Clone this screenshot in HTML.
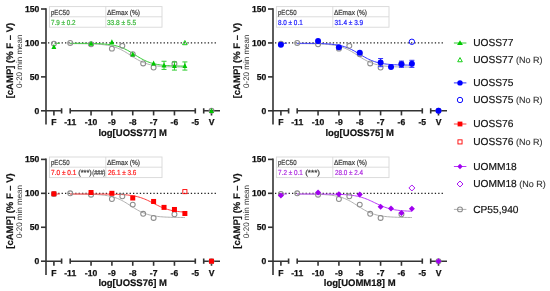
<!DOCTYPE html>
<html><head><meta charset="utf-8"><style>
html,body{margin:0;padding:0;background:#fff;width:550px;height:291px;overflow:hidden;}
svg{display:block;will-change:transform;text-rendering:geometricPrecision;}
</style></head><body>
<svg width="550" height="291" viewBox="0 0 550 291" font-family='"Liberation Sans", sans-serif'>
<rect width="550" height="291" fill="#fff"/>
<g transform="translate(0,0)">
<text transform="translate(13.0,60.6) rotate(-90)" text-anchor="middle" font-weight="bold" font-size="9.5" fill="#111" stroke="#111" stroke-width="0.2">[cAMP] (% F – V)</text>
<text transform="translate(22.3,61.3) rotate(-90)" text-anchor="middle" font-size="8" fill="#333">0-20 min mean</text>
<line x1="46.0" y1="8.20" x2="46.0" y2="124.6" stroke="#333" stroke-width="1.6"/>
<line x1="41.0" y1="110.80" x2="46.0" y2="110.80" stroke="#333" stroke-width="1.6"/>
<text x="39.4" y="113.80" text-anchor="end" font-weight="bold" font-size="8.6" fill="#111" stroke="#111" stroke-width="0.25">0</text>
<line x1="41.0" y1="76.87" x2="46.0" y2="76.87" stroke="#333" stroke-width="1.6"/>
<text x="39.4" y="79.87" text-anchor="end" font-weight="bold" font-size="8.6" fill="#111" stroke="#111" stroke-width="0.25">50</text>
<line x1="41.0" y1="42.93" x2="46.0" y2="42.93" stroke="#333" stroke-width="1.6"/>
<text x="39.4" y="45.93" text-anchor="end" font-weight="bold" font-size="8.6" fill="#111" stroke="#111" stroke-width="0.25">100</text>
<line x1="41.0" y1="9.00" x2="46.0" y2="9.00" stroke="#333" stroke-width="1.6"/>
<text x="39.4" y="12.00" text-anchor="end" font-weight="bold" font-size="8.6" fill="#111" stroke="#111" stroke-width="0.25">150</text>
<path d="M46.0,110.8H61.6M61.6,108.2V113.39999999999999M53.9,110.8V115.39999999999999" stroke="#333" stroke-width="1.6" fill="none"/>
<path d="M70.2,110.8H195.3M70.2,108.2V113.39999999999999M195.3,108.2V113.39999999999999" stroke="#333" stroke-width="1.6" fill="none"/>
<line x1="91.05" y1="110.8" x2="91.05" y2="115.39999999999999" stroke="#333" stroke-width="1.6"/>
<line x1="111.90" y1="110.8" x2="111.90" y2="115.39999999999999" stroke="#333" stroke-width="1.6"/>
<line x1="132.75" y1="110.8" x2="132.75" y2="115.39999999999999" stroke="#333" stroke-width="1.6"/>
<line x1="153.60" y1="110.8" x2="153.60" y2="115.39999999999999" stroke="#333" stroke-width="1.6"/>
<line x1="174.45" y1="110.8" x2="174.45" y2="115.39999999999999" stroke="#333" stroke-width="1.6"/>
<path d="M203.7,110.8H220.0M203.7,108.2V113.39999999999999M211.5,110.8V115.39999999999999" stroke="#333" stroke-width="1.6" fill="none"/>
<text x="53.9" y="125.2" text-anchor="middle" font-weight="bold" font-size="8.6" fill="#111" stroke="#111" stroke-width="0.25">F</text>
<text x="70.20" y="125.2" text-anchor="middle" font-weight="bold" font-size="8.6" fill="#111" stroke="#111" stroke-width="0.25">-11</text>
<text x="91.05" y="125.2" text-anchor="middle" font-weight="bold" font-size="8.6" fill="#111" stroke="#111" stroke-width="0.25">-10</text>
<text x="111.90" y="125.2" text-anchor="middle" font-weight="bold" font-size="8.6" fill="#111" stroke="#111" stroke-width="0.25">-9</text>
<text x="132.75" y="125.2" text-anchor="middle" font-weight="bold" font-size="8.6" fill="#111" stroke="#111" stroke-width="0.25">-8</text>
<text x="153.60" y="125.2" text-anchor="middle" font-weight="bold" font-size="8.6" fill="#111" stroke="#111" stroke-width="0.25">-7</text>
<text x="174.45" y="125.2" text-anchor="middle" font-weight="bold" font-size="8.6" fill="#111" stroke="#111" stroke-width="0.25">-6</text>
<text x="195.30" y="125.2" text-anchor="middle" font-weight="bold" font-size="8.6" fill="#111" stroke="#111" stroke-width="0.25">-5</text>
<text x="211.5" y="125.2" text-anchor="middle" font-weight="bold" font-size="8.6" fill="#111" stroke="#111" stroke-width="0.25">V</text>
<text x="132.7" y="136" text-anchor="middle" font-weight="bold" font-size="9.5" fill="#111" stroke="#111" stroke-width="0.2">log[UOSS77] M</text>
<line x1="48" y1="42.93" x2="218" y2="42.93" stroke="#222" stroke-width="1.2" stroke-dasharray="1.3 2.1"/>
<polyline points="70.20,43.64 71.63,43.64 73.07,43.65 74.50,43.66 75.93,43.66 77.37,43.67 78.80,43.69 80.23,43.70 81.67,43.71 83.10,43.73 84.53,43.75 85.97,43.78 87.40,43.81 88.83,43.84 90.27,43.88 91.70,43.92 93.13,43.98 94.57,44.04 96.00,44.11 97.44,44.19 98.87,44.29 100.30,44.40 101.74,44.54 103.17,44.69 104.60,44.86 106.04,45.06 107.47,45.30 108.90,45.56 110.34,45.86 111.77,46.21 113.20,46.60 114.64,47.04 116.07,47.53 117.50,48.07 118.94,48.67 120.37,49.33 121.80,50.04 123.24,50.81 124.67,51.62 126.10,52.48 127.54,53.37 128.97,54.29 130.40,55.21 131.84,56.15 133.27,57.07 134.70,57.97 136.14,58.84 137.57,59.67 139.00,60.45 140.44,61.19 141.87,61.86 143.31,62.49 144.74,63.05 146.17,63.56 147.61,64.02 149.04,64.42 150.47,64.78 151.91,65.10 153.34,65.38 154.77,65.62 156.21,65.84 157.64,66.02 159.07,66.18 160.51,66.32 161.94,66.44 163.37,66.54 164.81,66.63 166.24,66.71 167.67,66.77 169.11,66.83 170.54,66.87 171.97,66.92 173.41,66.95 174.84,66.98 176.27,67.01 177.71,67.03 179.14,67.05 180.57,67.06 182.01,67.08 183.44,67.09 184.88,67.10" fill="none" stroke="#b0b0b0" stroke-width="1.0"/>
<polyline points="70.20,43.29 71.63,43.29 73.07,43.29 74.50,43.30 75.93,43.30 77.37,43.31 78.80,43.32 80.23,43.32 81.67,43.33 83.10,43.34 84.53,43.36 85.97,43.37 87.40,43.39 88.83,43.41 90.27,43.44 91.70,43.46 93.13,43.50 94.57,43.53 96.00,43.58 97.44,43.63 98.87,43.69 100.30,43.76 101.74,43.85 103.17,43.94 104.60,44.06 106.04,44.18 107.47,44.33 108.90,44.51 110.34,44.71 111.77,44.94 113.20,45.20 114.64,45.50 116.07,45.83 117.50,46.22 118.94,46.65 120.37,47.13 121.80,47.67 123.24,48.26 124.67,48.90 126.10,49.60 127.54,50.35 128.97,51.15 130.40,51.99 131.84,52.86 133.27,53.75 134.70,54.66 136.14,55.56 137.57,56.46 139.00,57.33 140.44,58.18 141.87,58.98 143.31,59.74 144.74,60.45 146.17,61.11 147.61,61.71 149.04,62.25 150.47,62.75 151.91,63.19 153.34,63.58 154.77,63.92 156.21,64.23 157.64,64.50 159.07,64.73 160.51,64.94 161.94,65.11 163.37,65.27 164.81,65.40 166.24,65.52 167.67,65.61 169.11,65.70 170.54,65.77 171.97,65.84 173.41,65.89 174.84,65.94 176.27,65.98 177.71,66.01 179.14,66.04 180.57,66.06 182.01,66.08 183.44,66.10 184.88,66.12" fill="none" stroke="#30cc30" stroke-width="1.0"/>
<line x1="54.6" y1="43.27" x2="59.8" y2="43.27" stroke="#30cc30" stroke-width="1"/>
<circle cx="53.90" cy="43.61" r="2.45" fill="none" stroke="#8c8c8c" stroke-width="1.05"/>
<circle cx="70.20" cy="42.93" r="2.45" fill="none" stroke="#8c8c8c" stroke-width="1.05"/>
<circle cx="91.05" cy="44.29" r="2.45" fill="none" stroke="#8c8c8c" stroke-width="1.05"/>
<circle cx="111.90" cy="48.63" r="2.45" fill="none" stroke="#8c8c8c" stroke-width="1.05"/>
<circle cx="122.33" cy="45.85" r="2.45" fill="none" stroke="#8c8c8c" stroke-width="1.05"/>
<circle cx="132.75" cy="54.20" r="2.45" fill="none" stroke="#8c8c8c" stroke-width="1.05"/>
<circle cx="143.18" cy="63.43" r="2.45" fill="none" stroke="#8c8c8c" stroke-width="1.05"/>
<circle cx="153.60" cy="67.50" r="2.45" fill="none" stroke="#8c8c8c" stroke-width="1.05"/>
<circle cx="174.45" cy="63.83" r="2.45" fill="none" stroke="#8c8c8c" stroke-width="1.05"/>
<circle cx="211.50" cy="110.80" r="2.45" fill="none" stroke="#8c8c8c" stroke-width="1.05"/>
<polygon points="53.90,44.10 56.35,49.10 51.45,49.10" fill="#00c800"/>
<polygon points="91.05,40.71 93.50,45.71 88.60,45.71" fill="#00c800"/>
<polygon points="111.90,39.35 114.35,44.35 109.45,44.35" fill="#00c800"/>
<polygon points="132.75,51.57 135.20,56.57 130.30,56.57" fill="#00c800"/>
<polygon points="153.60,60.39 156.05,65.39 151.15,65.39" fill="#00c800"/>
<path d="M164.03,61.25V69.40M161.53,61.25h5.0M161.53,69.40h5.0" stroke="#30cc30" stroke-width="1.0" fill="none"/>
<polygon points="164.03,62.43 166.47,67.43 161.58,67.43" fill="#00c800"/>
<path d="M174.45,61.93V70.08M171.95,61.93h5.0M171.95,70.08h5.0" stroke="#30cc30" stroke-width="1.0" fill="none"/>
<polygon points="174.45,63.11 176.90,68.11 172.00,68.11" fill="#00c800"/>
<path d="M184.88,61.93V70.08M182.38,61.93h5.0M182.38,70.08h5.0" stroke="#30cc30" stroke-width="1.0" fill="none"/>
<polygon points="184.88,63.11 187.32,68.11 182.43,68.11" fill="#00c800"/>
<polygon points="184.88,40.49 187.18,44.69 182.57,44.69" fill="none" stroke="#00c800" stroke-width="0.9" stroke-linejoin="round"/>
<polygon points="211.50,107.90 213.95,112.90 209.05,112.90" fill="#00c800"/>
<rect x="49.4" y="6.6" width="112.6" height="20.6" fill="#fff" stroke="#d8d8d8" stroke-width="0.9"/>
<line x1="49.4" y1="16.8" x2="162" y2="16.8" stroke="#d8d8d8" stroke-width="0.9"/>
<line x1="105.8" y1="6.6" x2="105.8" y2="27.2" stroke="#d8d8d8" stroke-width="0.9"/>
<text x="51.0" y="14.8" font-size="7.3" fill="#3a3a3a" stroke="#3a3a3a" stroke-width="0.22" textLength="18.5" lengthAdjust="spacingAndGlyphs">pEC50</text>
<text x="106.9" y="14.8" font-size="7.3" fill="#3a3a3a" stroke="#3a3a3a" stroke-width="0.22" textLength="33.0" lengthAdjust="spacingAndGlyphs">ΔEmax (%)</text>
<text x="51.0" y="24.7" font-size="7.3" fill="#3cb83c" stroke="#3cb83c" stroke-width="0.22" textLength="24.5" lengthAdjust="spacingAndGlyphs">7.9 ± 0.2</text>
<text x="106.9" y="24.7" font-size="7.3" fill="#3cb83c" stroke="#3cb83c" stroke-width="0.22" textLength="29.3" lengthAdjust="spacingAndGlyphs">33.8 ± 5.5</text>
</g>
<g transform="translate(227,0)">
<text transform="translate(13.0,60.6) rotate(-90)" text-anchor="middle" font-weight="bold" font-size="9.5" fill="#111" stroke="#111" stroke-width="0.2">[cAMP] (% F – V)</text>
<text transform="translate(22.3,61.3) rotate(-90)" text-anchor="middle" font-size="8" fill="#333">0-20 min mean</text>
<line x1="46.0" y1="8.20" x2="46.0" y2="124.6" stroke="#333" stroke-width="1.6"/>
<line x1="41.0" y1="110.80" x2="46.0" y2="110.80" stroke="#333" stroke-width="1.6"/>
<text x="39.4" y="113.80" text-anchor="end" font-weight="bold" font-size="8.6" fill="#111" stroke="#111" stroke-width="0.25">0</text>
<line x1="41.0" y1="76.87" x2="46.0" y2="76.87" stroke="#333" stroke-width="1.6"/>
<text x="39.4" y="79.87" text-anchor="end" font-weight="bold" font-size="8.6" fill="#111" stroke="#111" stroke-width="0.25">50</text>
<line x1="41.0" y1="42.93" x2="46.0" y2="42.93" stroke="#333" stroke-width="1.6"/>
<text x="39.4" y="45.93" text-anchor="end" font-weight="bold" font-size="8.6" fill="#111" stroke="#111" stroke-width="0.25">100</text>
<line x1="41.0" y1="9.00" x2="46.0" y2="9.00" stroke="#333" stroke-width="1.6"/>
<text x="39.4" y="12.00" text-anchor="end" font-weight="bold" font-size="8.6" fill="#111" stroke="#111" stroke-width="0.25">150</text>
<path d="M46.0,110.8H61.6M61.6,108.2V113.39999999999999M53.9,110.8V115.39999999999999" stroke="#333" stroke-width="1.6" fill="none"/>
<path d="M70.2,110.8H195.3M70.2,108.2V113.39999999999999M195.3,108.2V113.39999999999999" stroke="#333" stroke-width="1.6" fill="none"/>
<line x1="91.05" y1="110.8" x2="91.05" y2="115.39999999999999" stroke="#333" stroke-width="1.6"/>
<line x1="111.90" y1="110.8" x2="111.90" y2="115.39999999999999" stroke="#333" stroke-width="1.6"/>
<line x1="132.75" y1="110.8" x2="132.75" y2="115.39999999999999" stroke="#333" stroke-width="1.6"/>
<line x1="153.60" y1="110.8" x2="153.60" y2="115.39999999999999" stroke="#333" stroke-width="1.6"/>
<line x1="174.45" y1="110.8" x2="174.45" y2="115.39999999999999" stroke="#333" stroke-width="1.6"/>
<path d="M203.7,110.8H220.0M203.7,108.2V113.39999999999999M211.5,110.8V115.39999999999999" stroke="#333" stroke-width="1.6" fill="none"/>
<text x="53.9" y="125.2" text-anchor="middle" font-weight="bold" font-size="8.6" fill="#111" stroke="#111" stroke-width="0.25">F</text>
<text x="70.20" y="125.2" text-anchor="middle" font-weight="bold" font-size="8.6" fill="#111" stroke="#111" stroke-width="0.25">-11</text>
<text x="91.05" y="125.2" text-anchor="middle" font-weight="bold" font-size="8.6" fill="#111" stroke="#111" stroke-width="0.25">-10</text>
<text x="111.90" y="125.2" text-anchor="middle" font-weight="bold" font-size="8.6" fill="#111" stroke="#111" stroke-width="0.25">-9</text>
<text x="132.75" y="125.2" text-anchor="middle" font-weight="bold" font-size="8.6" fill="#111" stroke="#111" stroke-width="0.25">-8</text>
<text x="153.60" y="125.2" text-anchor="middle" font-weight="bold" font-size="8.6" fill="#111" stroke="#111" stroke-width="0.25">-7</text>
<text x="174.45" y="125.2" text-anchor="middle" font-weight="bold" font-size="8.6" fill="#111" stroke="#111" stroke-width="0.25">-6</text>
<text x="195.30" y="125.2" text-anchor="middle" font-weight="bold" font-size="8.6" fill="#111" stroke="#111" stroke-width="0.25">-5</text>
<text x="211.5" y="125.2" text-anchor="middle" font-weight="bold" font-size="8.6" fill="#111" stroke="#111" stroke-width="0.25">V</text>
<text x="132.7" y="136" text-anchor="middle" font-weight="bold" font-size="9.5" fill="#111" stroke="#111" stroke-width="0.2">log[UOSS75] M</text>
<line x1="48" y1="42.93" x2="218" y2="42.93" stroke="#222" stroke-width="1.2" stroke-dasharray="1.3 2.1"/>
<polyline points="70.20,43.64 71.63,43.64 73.07,43.65 74.50,43.66 75.93,43.66 77.37,43.67 78.80,43.69 80.23,43.70 81.67,43.71 83.10,43.73 84.53,43.75 85.97,43.78 87.40,43.81 88.83,43.84 90.27,43.88 91.70,43.92 93.13,43.98 94.57,44.04 96.00,44.11 97.44,44.19 98.87,44.29 100.30,44.40 101.74,44.54 103.17,44.69 104.60,44.86 106.04,45.06 107.47,45.30 108.90,45.56 110.34,45.86 111.77,46.21 113.20,46.60 114.64,47.04 116.07,47.53 117.50,48.07 118.94,48.67 120.37,49.33 121.80,50.04 123.24,50.81 124.67,51.62 126.10,52.48 127.54,53.37 128.97,54.29 130.40,55.21 131.84,56.15 133.27,57.07 134.70,57.97 136.14,58.84 137.57,59.67 139.00,60.45 140.44,61.19 141.87,61.86 143.31,62.49 144.74,63.05 146.17,63.56 147.61,64.02 149.04,64.42 150.47,64.78 151.91,65.10 153.34,65.38 154.77,65.62 156.21,65.84 157.64,66.02 159.07,66.18 160.51,66.32 161.94,66.44 163.37,66.54 164.81,66.63 166.24,66.71 167.67,66.77 169.11,66.83 170.54,66.87 171.97,66.92 173.41,66.95 174.84,66.98 176.27,67.01 177.71,67.03 179.14,67.05 180.57,67.06 182.01,67.08 183.44,67.09 184.88,67.10" fill="none" stroke="#b0b0b0" stroke-width="1.0"/>
<polyline points="70.20,43.29 71.63,43.30 73.07,43.30 74.50,43.30 75.93,43.31 77.37,43.32 78.80,43.33 80.23,43.34 81.67,43.35 83.10,43.36 84.53,43.38 85.97,43.39 87.40,43.41 88.83,43.44 90.27,43.47 91.70,43.50 93.13,43.54 94.57,43.59 96.00,43.64 97.44,43.70 98.87,43.78 100.30,43.86 101.74,43.96 103.17,44.07 104.60,44.21 106.04,44.36 107.47,44.54 108.90,44.74 110.34,44.97 111.77,45.24 113.20,45.54 114.64,45.88 116.07,46.27 117.50,46.70 118.94,47.19 120.37,47.72 121.80,48.31 123.24,48.95 124.67,49.64 126.10,50.38 127.54,51.16 128.97,51.98 130.40,52.82 131.84,53.68 133.27,54.55 134.70,55.41 136.14,56.26 137.57,57.08 139.00,57.87 140.44,58.62 141.87,59.33 143.31,59.98 144.74,60.58 146.17,61.13 147.61,61.63 149.04,62.08 150.47,62.48 151.91,62.83 153.34,63.15 154.77,63.42 156.21,63.66 157.64,63.87 159.07,64.06 160.51,64.21 161.94,64.35 163.37,64.47 164.81,64.57 166.24,64.66 167.67,64.74 169.11,64.80 170.54,64.86 171.97,64.91 173.41,64.95 174.84,64.98 176.27,65.01 177.71,65.04 179.14,65.06 180.57,65.08 182.01,65.10 183.44,65.11 184.88,65.12" fill="none" stroke="#3030ff" stroke-width="1.0"/>
<line x1="54.6" y1="43.27" x2="59.8" y2="43.27" stroke="#3030ff" stroke-width="1"/>
<circle cx="53.90" cy="43.61" r="2.45" fill="none" stroke="#8c8c8c" stroke-width="1.05"/>
<circle cx="70.20" cy="42.93" r="2.45" fill="none" stroke="#8c8c8c" stroke-width="1.05"/>
<circle cx="91.05" cy="44.29" r="2.45" fill="none" stroke="#8c8c8c" stroke-width="1.05"/>
<circle cx="111.90" cy="48.63" r="2.45" fill="none" stroke="#8c8c8c" stroke-width="1.05"/>
<circle cx="122.33" cy="45.85" r="2.45" fill="none" stroke="#8c8c8c" stroke-width="1.05"/>
<circle cx="132.75" cy="54.20" r="2.45" fill="none" stroke="#8c8c8c" stroke-width="1.05"/>
<circle cx="143.18" cy="63.43" r="2.45" fill="none" stroke="#8c8c8c" stroke-width="1.05"/>
<circle cx="153.60" cy="67.50" r="2.45" fill="none" stroke="#8c8c8c" stroke-width="1.05"/>
<circle cx="174.45" cy="63.83" r="2.45" fill="none" stroke="#8c8c8c" stroke-width="1.05"/>
<circle cx="211.50" cy="110.80" r="2.45" fill="none" stroke="#8c8c8c" stroke-width="1.05"/>
<circle cx="53.90" cy="44.69" r="3.0" fill="#0000ff"/>
<circle cx="91.05" cy="40.89" r="3.0" fill="#0000ff"/>
<circle cx="111.90" cy="47.21" r="3.0" fill="#0000ff"/>
<circle cx="132.75" cy="52.70" r="3.0" fill="#0000ff"/>
<path d="M153.60,58.54V66.68M151.10,58.54h5.0M151.10,66.68h5.0" stroke="#3030ff" stroke-width="1.0" fill="none"/>
<circle cx="153.60" cy="62.61" r="3.0" fill="#0000ff"/>
<circle cx="164.03" cy="67.02" r="3.0" fill="#0000ff"/>
<path d="M174.45,61.12V67.36M171.95,61.12h5.0M171.95,67.36h5.0" stroke="#3030ff" stroke-width="1.0" fill="none"/>
<circle cx="174.45" cy="64.24" r="3.0" fill="#0000ff"/>
<path d="M184.88,60.30V67.36M182.38,60.30h5.0M182.38,67.36h5.0" stroke="#3030ff" stroke-width="1.0" fill="none"/>
<circle cx="184.88" cy="63.83" r="3.0" fill="#0000ff"/>
<circle cx="184.88" cy="41.78" r="2.7" fill="none" stroke="#0000ff" stroke-width="0.95"/>
<circle cx="211.50" cy="110.80" r="3.0" fill="#0000ff"/>
<rect x="49.4" y="6.6" width="112.6" height="20.6" fill="#fff" stroke="#d8d8d8" stroke-width="0.9"/>
<line x1="49.4" y1="16.8" x2="162" y2="16.8" stroke="#d8d8d8" stroke-width="0.9"/>
<line x1="105.8" y1="6.6" x2="105.8" y2="27.2" stroke="#d8d8d8" stroke-width="0.9"/>
<text x="51.0" y="14.8" font-size="7.3" fill="#3a3a3a" stroke="#3a3a3a" stroke-width="0.22" textLength="18.5" lengthAdjust="spacingAndGlyphs">pEC50</text>
<text x="106.9" y="14.8" font-size="7.3" fill="#3a3a3a" stroke="#3a3a3a" stroke-width="0.22" textLength="33.0" lengthAdjust="spacingAndGlyphs">ΔEmax (%)</text>
<text x="51.0" y="24.7" font-size="7.3" fill="#2020ff" stroke="#2020ff" stroke-width="0.22" textLength="24.7" lengthAdjust="spacingAndGlyphs">8.0 ± 0.1</text>
<text x="107.4" y="24.7" font-size="7.3" fill="#2020ff" stroke="#2020ff" stroke-width="0.22" textLength="28.8" lengthAdjust="spacingAndGlyphs">31.4 ± 3.9</text>
</g>
<g transform="translate(0,150.4)">
<text transform="translate(13.0,60.6) rotate(-90)" text-anchor="middle" font-weight="bold" font-size="9.5" fill="#111" stroke="#111" stroke-width="0.2">[cAMP] (% F – V)</text>
<text transform="translate(22.3,61.3) rotate(-90)" text-anchor="middle" font-size="8" fill="#333">0-20 min mean</text>
<line x1="46.0" y1="8.20" x2="46.0" y2="124.6" stroke="#333" stroke-width="1.6"/>
<line x1="41.0" y1="110.80" x2="46.0" y2="110.80" stroke="#333" stroke-width="1.6"/>
<text x="39.4" y="113.80" text-anchor="end" font-weight="bold" font-size="8.6" fill="#111" stroke="#111" stroke-width="0.25">0</text>
<line x1="41.0" y1="76.87" x2="46.0" y2="76.87" stroke="#333" stroke-width="1.6"/>
<text x="39.4" y="79.87" text-anchor="end" font-weight="bold" font-size="8.6" fill="#111" stroke="#111" stroke-width="0.25">50</text>
<line x1="41.0" y1="42.93" x2="46.0" y2="42.93" stroke="#333" stroke-width="1.6"/>
<text x="39.4" y="45.93" text-anchor="end" font-weight="bold" font-size="8.6" fill="#111" stroke="#111" stroke-width="0.25">100</text>
<line x1="41.0" y1="9.00" x2="46.0" y2="9.00" stroke="#333" stroke-width="1.6"/>
<text x="39.4" y="12.00" text-anchor="end" font-weight="bold" font-size="8.6" fill="#111" stroke="#111" stroke-width="0.25">150</text>
<path d="M46.0,110.8H61.6M61.6,108.2V113.39999999999999M53.9,110.8V115.39999999999999" stroke="#333" stroke-width="1.6" fill="none"/>
<path d="M70.2,110.8H195.3M70.2,108.2V113.39999999999999M195.3,108.2V113.39999999999999" stroke="#333" stroke-width="1.6" fill="none"/>
<line x1="91.05" y1="110.8" x2="91.05" y2="115.39999999999999" stroke="#333" stroke-width="1.6"/>
<line x1="111.90" y1="110.8" x2="111.90" y2="115.39999999999999" stroke="#333" stroke-width="1.6"/>
<line x1="132.75" y1="110.8" x2="132.75" y2="115.39999999999999" stroke="#333" stroke-width="1.6"/>
<line x1="153.60" y1="110.8" x2="153.60" y2="115.39999999999999" stroke="#333" stroke-width="1.6"/>
<line x1="174.45" y1="110.8" x2="174.45" y2="115.39999999999999" stroke="#333" stroke-width="1.6"/>
<path d="M203.7,110.8H220.0M203.7,108.2V113.39999999999999M211.5,110.8V115.39999999999999" stroke="#333" stroke-width="1.6" fill="none"/>
<text x="53.9" y="125.2" text-anchor="middle" font-weight="bold" font-size="8.6" fill="#111" stroke="#111" stroke-width="0.25">F</text>
<text x="70.20" y="125.2" text-anchor="middle" font-weight="bold" font-size="8.6" fill="#111" stroke="#111" stroke-width="0.25">-11</text>
<text x="91.05" y="125.2" text-anchor="middle" font-weight="bold" font-size="8.6" fill="#111" stroke="#111" stroke-width="0.25">-10</text>
<text x="111.90" y="125.2" text-anchor="middle" font-weight="bold" font-size="8.6" fill="#111" stroke="#111" stroke-width="0.25">-9</text>
<text x="132.75" y="125.2" text-anchor="middle" font-weight="bold" font-size="8.6" fill="#111" stroke="#111" stroke-width="0.25">-8</text>
<text x="153.60" y="125.2" text-anchor="middle" font-weight="bold" font-size="8.6" fill="#111" stroke="#111" stroke-width="0.25">-7</text>
<text x="174.45" y="125.2" text-anchor="middle" font-weight="bold" font-size="8.6" fill="#111" stroke="#111" stroke-width="0.25">-6</text>
<text x="195.30" y="125.2" text-anchor="middle" font-weight="bold" font-size="8.6" fill="#111" stroke="#111" stroke-width="0.25">-5</text>
<text x="211.5" y="125.2" text-anchor="middle" font-weight="bold" font-size="8.6" fill="#111" stroke="#111" stroke-width="0.25">V</text>
<text x="132.7" y="136" text-anchor="middle" font-weight="bold" font-size="9.5" fill="#111" stroke="#111" stroke-width="0.2">log[UOSS76] M</text>
<line x1="48" y1="42.93" x2="218" y2="42.93" stroke="#222" stroke-width="1.2" stroke-dasharray="1.3 2.1"/>
<polyline points="70.20,43.64 71.63,43.64 73.07,43.65 74.50,43.66 75.93,43.66 77.37,43.67 78.80,43.69 80.23,43.70 81.67,43.71 83.10,43.73 84.53,43.75 85.97,43.78 87.40,43.81 88.83,43.84 90.27,43.88 91.70,43.92 93.13,43.98 94.57,44.04 96.00,44.11 97.44,44.19 98.87,44.29 100.30,44.40 101.74,44.54 103.17,44.69 104.60,44.86 106.04,45.06 107.47,45.30 108.90,45.56 110.34,45.86 111.77,46.21 113.20,46.60 114.64,47.04 116.07,47.53 117.50,48.07 118.94,48.67 120.37,49.33 121.80,50.04 123.24,50.81 124.67,51.62 126.10,52.48 127.54,53.37 128.97,54.29 130.40,55.21 131.84,56.15 133.27,57.07 134.70,57.97 136.14,58.84 137.57,59.67 139.00,60.45 140.44,61.19 141.87,61.86 143.31,62.49 144.74,63.05 146.17,63.56 147.61,64.02 149.04,64.42 150.47,64.78 151.91,65.10 153.34,65.38 154.77,65.62 156.21,65.84 157.64,66.02 159.07,66.18 160.51,66.32 161.94,66.44 163.37,66.54 164.81,66.63 166.24,66.71 167.67,66.77 169.11,66.83 170.54,66.87 171.97,66.92 173.41,66.95 174.84,66.98 176.27,67.01 177.71,67.03 179.14,67.05 180.57,67.06 182.01,67.08 183.44,67.09 184.88,67.10" fill="none" stroke="#b0b0b0" stroke-width="1.0"/>
<polyline points="70.20,43.61 71.63,43.61 73.07,43.61 74.50,43.61 75.93,43.61 77.37,43.61 78.80,43.61 80.23,43.61 81.67,43.62 83.10,43.62 84.53,43.62 85.97,43.62 87.40,43.62 88.83,43.62 90.27,43.63 91.70,43.63 93.13,43.63 94.57,43.64 96.00,43.64 97.44,43.65 98.87,43.65 100.30,43.66 101.74,43.67 103.17,43.68 104.60,43.69 106.04,43.71 107.47,43.72 108.90,43.74 110.34,43.76 111.77,43.79 113.20,43.82 114.64,43.86 116.07,43.90 117.50,43.95 118.94,44.01 120.37,44.07 121.80,44.15 123.24,44.24 124.67,44.34 126.10,44.46 127.54,44.60 128.97,44.76 130.40,44.95 131.84,45.16 133.27,45.40 134.70,45.67 136.14,45.98 137.57,46.32 139.00,46.71 140.44,47.14 141.87,47.62 143.31,48.14 144.74,48.71 146.17,49.31 147.61,49.96 149.04,50.64 150.47,51.35 151.91,52.07 153.34,52.81 154.77,53.54 156.21,54.27 157.64,54.99 159.07,55.68 160.51,56.34 161.94,56.96 163.37,57.54 164.81,58.08 166.24,58.57 167.67,59.02 169.11,59.42 170.54,59.78 171.97,60.10 173.41,60.39 174.84,60.64 176.27,60.86 177.71,61.06 179.14,61.22 180.57,61.37 182.01,61.50 183.44,61.61 184.88,61.70" fill="none" stroke="#ff3a3a" stroke-width="1.0"/>
<line x1="54.6" y1="43.61" x2="59.8" y2="43.61" stroke="#ff3a3a" stroke-width="1"/>
<circle cx="53.90" cy="43.61" r="2.45" fill="none" stroke="#8c8c8c" stroke-width="1.05"/>
<circle cx="70.20" cy="42.93" r="2.45" fill="none" stroke="#8c8c8c" stroke-width="1.05"/>
<circle cx="91.05" cy="44.29" r="2.45" fill="none" stroke="#8c8c8c" stroke-width="1.05"/>
<circle cx="111.90" cy="48.63" r="2.45" fill="none" stroke="#8c8c8c" stroke-width="1.05"/>
<circle cx="122.33" cy="45.85" r="2.45" fill="none" stroke="#8c8c8c" stroke-width="1.05"/>
<circle cx="132.75" cy="54.20" r="2.45" fill="none" stroke="#8c8c8c" stroke-width="1.05"/>
<circle cx="143.18" cy="63.43" r="2.45" fill="none" stroke="#8c8c8c" stroke-width="1.05"/>
<circle cx="153.60" cy="67.50" r="2.45" fill="none" stroke="#8c8c8c" stroke-width="1.05"/>
<circle cx="174.45" cy="63.83" r="2.45" fill="none" stroke="#8c8c8c" stroke-width="1.05"/>
<circle cx="211.50" cy="110.80" r="2.45" fill="none" stroke="#8c8c8c" stroke-width="1.05"/>
<rect x="51.40" y="40.91" width="5.0" height="5.0" fill="#ff0000"/>
<rect x="88.55" y="39.62" width="5.0" height="5.0" fill="#ff0000"/>
<rect x="109.40" y="40.43" width="5.0" height="5.0" fill="#ff0000"/>
<rect x="130.25" y="45.11" width="5.0" height="5.0" fill="#ff0000"/>
<rect x="151.10" y="48.57" width="5.0" height="5.0" fill="#ff0000"/>
<rect x="161.53" y="54.48" width="5.0" height="5.0" fill="#ff0000"/>
<rect x="171.95" y="56.58" width="5.0" height="5.0" fill="#ff0000"/>
<rect x="182.38" y="60.59" width="5.0" height="5.0" fill="#ff0000"/>
<rect x="182.82" y="39.18" width="4.1" height="4.1" fill="none" stroke="#ff0000" stroke-width="0.9"/>
<rect x="209.00" y="108.30" width="5.0" height="5.0" fill="#ff0000"/>
<rect x="49.4" y="6.6" width="112.6" height="20.6" fill="#fff" stroke="#d8d8d8" stroke-width="0.9"/>
<line x1="49.4" y1="16.8" x2="162" y2="16.8" stroke="#d8d8d8" stroke-width="0.9"/>
<line x1="105.8" y1="6.6" x2="105.8" y2="27.2" stroke="#d8d8d8" stroke-width="0.9"/>
<text x="51.0" y="14.8" font-size="7.3" fill="#3a3a3a" stroke="#3a3a3a" stroke-width="0.22" textLength="18.5" lengthAdjust="spacingAndGlyphs">pEC50</text>
<text x="106.9" y="14.8" font-size="7.3" fill="#3a3a3a" stroke="#3a3a3a" stroke-width="0.22" textLength="33.0" lengthAdjust="spacingAndGlyphs">ΔEmax (%)</text>
<text x="51.1" y="24.7" font-size="7.3" fill="#ff2020" stroke="#ff2020" stroke-width="0.22" textLength="25.2" lengthAdjust="spacingAndGlyphs">7.0 ± 0.1</text>
<text x="78.2" y="24.7" font-size="7.3" fill="#3a3a3a" stroke="#3a3a3a" stroke-width="0.22" textLength="13.6" lengthAdjust="spacingAndGlyphs">(***)</text>
<text x="92.3" y="24.7" font-size="7.3" fill="#3a3a3a" stroke="#3a3a3a" stroke-width="0.22" textLength="13.1" lengthAdjust="spacingAndGlyphs">(###)</text>
<text x="108.0" y="24.7" font-size="7.3" fill="#ff2020" stroke="#ff2020" stroke-width="0.22" textLength="28.4" lengthAdjust="spacingAndGlyphs">26.1 ± 3.6</text>
</g>
<g transform="translate(227,150.4)">
<text transform="translate(13.0,60.6) rotate(-90)" text-anchor="middle" font-weight="bold" font-size="9.5" fill="#111" stroke="#111" stroke-width="0.2">[cAMP] (% F – V)</text>
<text transform="translate(22.3,61.3) rotate(-90)" text-anchor="middle" font-size="8" fill="#333">0-20 min mean</text>
<line x1="46.0" y1="8.20" x2="46.0" y2="124.6" stroke="#333" stroke-width="1.6"/>
<line x1="41.0" y1="110.80" x2="46.0" y2="110.80" stroke="#333" stroke-width="1.6"/>
<text x="39.4" y="113.80" text-anchor="end" font-weight="bold" font-size="8.6" fill="#111" stroke="#111" stroke-width="0.25">0</text>
<line x1="41.0" y1="76.87" x2="46.0" y2="76.87" stroke="#333" stroke-width="1.6"/>
<text x="39.4" y="79.87" text-anchor="end" font-weight="bold" font-size="8.6" fill="#111" stroke="#111" stroke-width="0.25">50</text>
<line x1="41.0" y1="42.93" x2="46.0" y2="42.93" stroke="#333" stroke-width="1.6"/>
<text x="39.4" y="45.93" text-anchor="end" font-weight="bold" font-size="8.6" fill="#111" stroke="#111" stroke-width="0.25">100</text>
<line x1="41.0" y1="9.00" x2="46.0" y2="9.00" stroke="#333" stroke-width="1.6"/>
<text x="39.4" y="12.00" text-anchor="end" font-weight="bold" font-size="8.6" fill="#111" stroke="#111" stroke-width="0.25">150</text>
<path d="M46.0,110.8H61.6M61.6,108.2V113.39999999999999M53.9,110.8V115.39999999999999" stroke="#333" stroke-width="1.6" fill="none"/>
<path d="M70.2,110.8H195.3M70.2,108.2V113.39999999999999M195.3,108.2V113.39999999999999" stroke="#333" stroke-width="1.6" fill="none"/>
<line x1="91.05" y1="110.8" x2="91.05" y2="115.39999999999999" stroke="#333" stroke-width="1.6"/>
<line x1="111.90" y1="110.8" x2="111.90" y2="115.39999999999999" stroke="#333" stroke-width="1.6"/>
<line x1="132.75" y1="110.8" x2="132.75" y2="115.39999999999999" stroke="#333" stroke-width="1.6"/>
<line x1="153.60" y1="110.8" x2="153.60" y2="115.39999999999999" stroke="#333" stroke-width="1.6"/>
<line x1="174.45" y1="110.8" x2="174.45" y2="115.39999999999999" stroke="#333" stroke-width="1.6"/>
<path d="M203.7,110.8H220.0M203.7,108.2V113.39999999999999M211.5,110.8V115.39999999999999" stroke="#333" stroke-width="1.6" fill="none"/>
<text x="53.9" y="125.2" text-anchor="middle" font-weight="bold" font-size="8.6" fill="#111" stroke="#111" stroke-width="0.25">F</text>
<text x="70.20" y="125.2" text-anchor="middle" font-weight="bold" font-size="8.6" fill="#111" stroke="#111" stroke-width="0.25">-11</text>
<text x="91.05" y="125.2" text-anchor="middle" font-weight="bold" font-size="8.6" fill="#111" stroke="#111" stroke-width="0.25">-10</text>
<text x="111.90" y="125.2" text-anchor="middle" font-weight="bold" font-size="8.6" fill="#111" stroke="#111" stroke-width="0.25">-9</text>
<text x="132.75" y="125.2" text-anchor="middle" font-weight="bold" font-size="8.6" fill="#111" stroke="#111" stroke-width="0.25">-8</text>
<text x="153.60" y="125.2" text-anchor="middle" font-weight="bold" font-size="8.6" fill="#111" stroke="#111" stroke-width="0.25">-7</text>
<text x="174.45" y="125.2" text-anchor="middle" font-weight="bold" font-size="8.6" fill="#111" stroke="#111" stroke-width="0.25">-6</text>
<text x="195.30" y="125.2" text-anchor="middle" font-weight="bold" font-size="8.6" fill="#111" stroke="#111" stroke-width="0.25">-5</text>
<text x="211.5" y="125.2" text-anchor="middle" font-weight="bold" font-size="8.6" fill="#111" stroke="#111" stroke-width="0.25">V</text>
<text x="132.7" y="136" text-anchor="middle" font-weight="bold" font-size="9.5" fill="#111" stroke="#111" stroke-width="0.2">log[UOMM18] M</text>
<line x1="48" y1="42.93" x2="218" y2="42.93" stroke="#222" stroke-width="1.2" stroke-dasharray="1.3 2.1"/>
<polyline points="70.20,43.64 71.63,43.64 73.07,43.65 74.50,43.66 75.93,43.66 77.37,43.67 78.80,43.69 80.23,43.70 81.67,43.71 83.10,43.73 84.53,43.75 85.97,43.78 87.40,43.81 88.83,43.84 90.27,43.88 91.70,43.92 93.13,43.98 94.57,44.04 96.00,44.11 97.44,44.19 98.87,44.29 100.30,44.40 101.74,44.54 103.17,44.69 104.60,44.86 106.04,45.06 107.47,45.30 108.90,45.56 110.34,45.86 111.77,46.21 113.20,46.60 114.64,47.04 116.07,47.53 117.50,48.07 118.94,48.67 120.37,49.33 121.80,50.04 123.24,50.81 124.67,51.62 126.10,52.48 127.54,53.37 128.97,54.29 130.40,55.21 131.84,56.15 133.27,57.07 134.70,57.97 136.14,58.84 137.57,59.67 139.00,60.45 140.44,61.19 141.87,61.86 143.31,62.49 144.74,63.05 146.17,63.56 147.61,64.02 149.04,64.42 150.47,64.78 151.91,65.10 153.34,65.38 154.77,65.62 156.21,65.84 157.64,66.02 159.07,66.18 160.51,66.32 161.94,66.44 163.37,66.54 164.81,66.63 166.24,66.71 167.67,66.77 169.11,66.83 170.54,66.87 171.97,66.92 173.41,66.95 174.84,66.98 176.27,67.01 177.71,67.03 179.14,67.05 180.57,67.06 182.01,67.08 183.44,67.09 184.88,67.10" fill="none" stroke="#b0b0b0" stroke-width="1.0"/>
<polyline points="70.20,43.61 71.63,43.61 73.07,43.61 74.50,43.61 75.93,43.61 77.37,43.62 78.80,43.62 80.23,43.62 81.67,43.62 83.10,43.62 84.53,43.62 85.97,43.63 87.40,43.63 88.83,43.63 90.27,43.64 91.70,43.64 93.13,43.65 94.57,43.66 96.00,43.67 97.44,43.68 98.87,43.69 100.30,43.70 101.74,43.72 103.17,43.74 104.60,43.76 106.04,43.78 107.47,43.81 108.90,43.85 110.34,43.89 111.77,43.93 113.20,43.99 114.64,44.05 116.07,44.12 117.50,44.21 118.94,44.31 120.37,44.42 121.80,44.55 123.24,44.70 124.67,44.88 126.10,45.08 127.54,45.30 128.97,45.56 130.40,45.85 131.84,46.18 133.27,46.55 134.70,46.96 136.14,47.41 137.57,47.90 139.00,48.43 140.44,49.00 141.87,49.61 143.31,50.25 144.74,50.92 146.17,51.60 147.61,52.29 149.04,52.98 150.47,53.66 151.91,54.33 153.34,54.98 154.77,55.59 156.21,56.17 157.64,56.72 159.07,57.22 160.51,57.68 161.94,58.09 163.37,58.47 164.81,58.81 166.24,59.11 167.67,59.37 169.11,59.60 170.54,59.81 171.97,59.99 173.41,60.15 174.84,60.28 176.27,60.40 177.71,60.50 179.14,60.59 180.57,60.66 182.01,60.73 183.44,60.79 184.88,60.83" fill="none" stroke="#b838f8" stroke-width="1.0"/>
<line x1="54.6" y1="43.61" x2="59.8" y2="43.61" stroke="#b838f8" stroke-width="1"/>
<circle cx="53.90" cy="43.61" r="2.45" fill="none" stroke="#8c8c8c" stroke-width="1.05"/>
<circle cx="70.20" cy="42.93" r="2.45" fill="none" stroke="#8c8c8c" stroke-width="1.05"/>
<circle cx="91.05" cy="44.29" r="2.45" fill="none" stroke="#8c8c8c" stroke-width="1.05"/>
<circle cx="111.90" cy="48.63" r="2.45" fill="none" stroke="#8c8c8c" stroke-width="1.05"/>
<circle cx="122.33" cy="45.85" r="2.45" fill="none" stroke="#8c8c8c" stroke-width="1.05"/>
<circle cx="132.75" cy="54.20" r="2.45" fill="none" stroke="#8c8c8c" stroke-width="1.05"/>
<circle cx="143.18" cy="63.43" r="2.45" fill="none" stroke="#8c8c8c" stroke-width="1.05"/>
<circle cx="153.60" cy="67.50" r="2.45" fill="none" stroke="#8c8c8c" stroke-width="1.05"/>
<circle cx="174.45" cy="63.83" r="2.45" fill="none" stroke="#8c8c8c" stroke-width="1.05"/>
<circle cx="211.50" cy="110.80" r="2.45" fill="none" stroke="#8c8c8c" stroke-width="1.05"/>
<polygon points="53.90,42.10 56.90,45.10 53.90,48.10 50.90,45.10" fill="#a000f0"/>
<polygon points="91.05,39.12 94.05,42.12 91.05,45.12 88.05,42.12" fill="#a000f0"/>
<polygon points="111.90,40.81 114.90,43.81 111.90,46.81 108.90,43.81" fill="#a000f0"/>
<polygon points="132.75,41.02 135.75,44.02 132.75,47.02 129.75,44.02" fill="#a000f0"/>
<polygon points="153.60,53.37 156.60,56.37 153.60,59.37 150.60,56.37" fill="#a000f0"/>
<polygon points="164.03,55.20 167.03,58.20 164.03,61.20 161.03,58.20" fill="#a000f0"/>
<polygon points="174.45,59.48 177.45,62.48 174.45,65.48 171.45,62.48" fill="#a000f0"/>
<polygon points="184.88,55.27 187.88,58.27 184.88,61.27 181.88,58.27" fill="#a000f0"/>
<polygon points="184.88,34.57 187.88,37.57 184.88,40.57 181.88,37.57" fill="none" stroke="#a000f0" stroke-width="0.9" stroke-linejoin="round"/>
<polygon points="211.50,107.80 214.50,110.80 211.50,113.80 208.50,110.80" fill="#a000f0"/>
<rect x="49.4" y="6.6" width="112.6" height="20.6" fill="#fff" stroke="#d8d8d8" stroke-width="0.9"/>
<line x1="49.4" y1="16.8" x2="162" y2="16.8" stroke="#d8d8d8" stroke-width="0.9"/>
<line x1="105.8" y1="6.6" x2="105.8" y2="27.2" stroke="#d8d8d8" stroke-width="0.9"/>
<text x="51.0" y="14.8" font-size="7.3" fill="#3a3a3a" stroke="#3a3a3a" stroke-width="0.22" textLength="18.5" lengthAdjust="spacingAndGlyphs">pEC50</text>
<text x="106.9" y="14.8" font-size="7.3" fill="#3a3a3a" stroke="#3a3a3a" stroke-width="0.22" textLength="33.0" lengthAdjust="spacingAndGlyphs">ΔEmax (%)</text>
<text x="51.1" y="24.7" font-size="7.3" fill="#b030e0" stroke="#b030e0" stroke-width="0.22" textLength="24.7" lengthAdjust="spacingAndGlyphs">7.2 ± 0.1</text>
<text x="78.2" y="24.7" font-size="7.3" fill="#3a3a3a" stroke="#3a3a3a" stroke-width="0.22" textLength="14.8" lengthAdjust="spacingAndGlyphs">(***)</text>
<text x="108.0" y="24.7" font-size="7.3" fill="#b030e0" stroke="#b030e0" stroke-width="0.22" textLength="28.1" lengthAdjust="spacingAndGlyphs">28.0 ± 2.4</text>
</g>
<line x1="453.9" y1="43.0" x2="466.4" y2="43.0" stroke="#30cc30" stroke-width="1"/>
<polygon points="460.00,40.27 462.90,44.97 457.10,44.97" fill="#00c800"/>
<text x="473.2" y="46.4" font-size="10.2" fill="#111" stroke="#111" stroke-width="0.18">UOSS77</text>
<polygon points="460.00,57.56 462.30,61.76 457.70,61.76" fill="none" stroke="#00c800" stroke-width="0.9" stroke-linejoin="round"/>
<text x="473.2" y="63.4" font-size="10.2" fill="#111" stroke="#111" stroke-width="0.18">UOSS77<tspan font-size="9" fill="#333" stroke="#333" stroke-width="0.12"> (No R)</tspan></text>
<line x1="453.9" y1="82.9" x2="466.4" y2="82.9" stroke="#3030ff" stroke-width="1"/>
<circle cx="460.00" cy="82.90" r="2.7" fill="#0000ff"/>
<text x="473.2" y="86.3" font-size="10.2" fill="#111" stroke="#111" stroke-width="0.18">UOSS75</text>
<circle cx="460.00" cy="100.00" r="2.7" fill="none" stroke="#0000ff" stroke-width="0.95"/>
<text x="473.2" y="103.4" font-size="10.2" fill="#111" stroke="#111" stroke-width="0.18">UOSS75<tspan font-size="9" fill="#333" stroke="#333" stroke-width="0.12"> (No R)</tspan></text>
<line x1="453.9" y1="124.0" x2="466.4" y2="124.0" stroke="#ff3a3a" stroke-width="1"/>
<rect x="457.60" y="121.60" width="4.8" height="4.8" fill="#ff0000"/>
<text x="473.2" y="127.4" font-size="10.2" fill="#111" stroke="#111" stroke-width="0.18">UOSS76</text>
<rect x="457.95" y="139.85" width="4.1" height="4.1" fill="none" stroke="#ff0000" stroke-width="0.9"/>
<text x="473.2" y="145.3" font-size="10.2" fill="#111" stroke="#111" stroke-width="0.18">UOSS76<tspan font-size="9" fill="#333" stroke="#333" stroke-width="0.12"> (No R)</tspan></text>
<line x1="453.9" y1="166.5" x2="466.4" y2="166.5" stroke="#b838f8" stroke-width="1"/>
<polygon points="460.00,163.80 462.70,166.50 460.00,169.20 457.30,166.50" fill="#a000f0"/>
<text x="473.2" y="169.9" font-size="10.2" fill="#111" stroke="#111" stroke-width="0.18">UOMM18</text>
<polygon points="460.00,181.00 463.00,184.00 460.00,187.00 457.00,184.00" fill="none" stroke="#a000f0" stroke-width="0.9" stroke-linejoin="round"/>
<text x="473.2" y="187.4" font-size="10.2" fill="#111" stroke="#111" stroke-width="0.18">UOMM18<tspan font-size="9" fill="#333" stroke="#333" stroke-width="0.12"> (No R)</tspan></text>
<line x1="453.9" y1="209.4" x2="466.4" y2="209.4" stroke="#b0b0b0" stroke-width="1"/>
<circle cx="460.00" cy="209.40" r="2.45" fill="none" stroke="#8c8c8c" stroke-width="1.05"/>
<text x="473.2" y="212.8" font-size="10.2" fill="#111" stroke="#111" stroke-width="0.18">CP55,940</text>
</svg>
</body></html>
